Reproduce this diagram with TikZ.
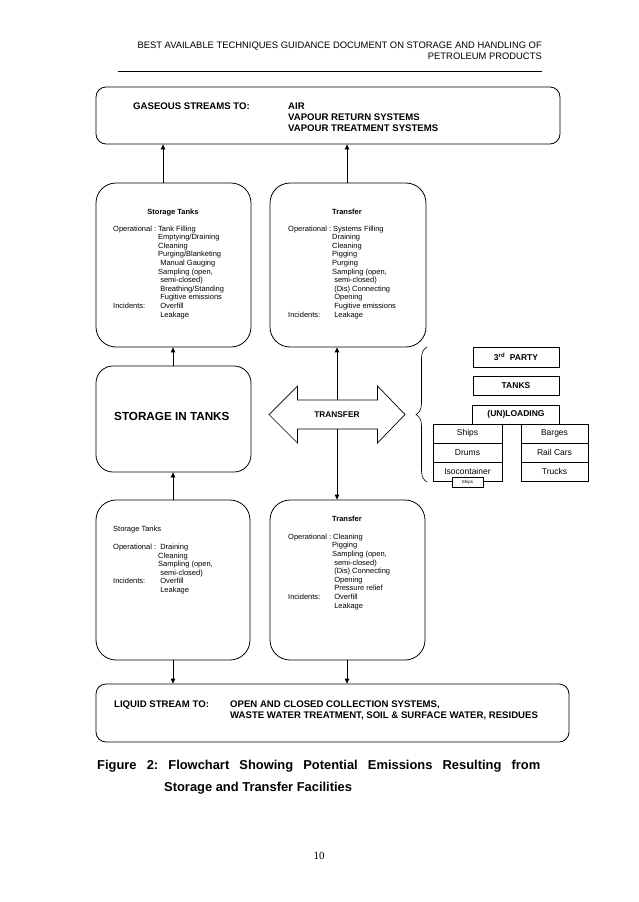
\documentclass[tikz,border=0pt]{standalone}
\usepackage{fontspec}
\setmainfont{Liberation Sans}
\newfontfamily\serifnum{Liberation Serif}
\usetikzlibrary{arrows.meta,decorations.pathreplacing}
\frenchspacing
\newcommand\firstrow[1]{\leavevmode\rlap{#1}}
\begin{document}
\begin{tikzpicture}[x=1pt,y=-1pt,
  rbox/.style={draw, line width=0.8pt, rounded corners=#1, inner sep=0pt},
  rbox/.default=20pt,
  sm/.style={font=\fontsize{7.5}{8.6}\selectfont, inner sep=0pt},
  smb/.style={font=\fontsize{7.5}{8.6}\selectfont\bfseries, inner sep=0pt},
  big/.style={font=\fontsize{9.6}{11}\selectfont\bfseries, inner sep=0pt},
  tb/.style={draw, line width=0.7pt, inner sep=0pt, font=\fontsize{8.5}{10}\selectfont},
  tbb/.style={tb, font=\fontsize{8.5}{10}\selectfont\bfseries},
  arr/.style={line width=0.8pt, -{Triangle[length=5pt,width=4.5pt]}},
  hdr/.style={font=\fontsize{9.4}{11}\selectfont, anchor=base east, inner sep=0pt},
  capt/.style={font=\fontsize{12.9}{15}\selectfont\bfseries\frenchspacing, anchor=base west, inner sep=0pt}]
\useasboundingbox (0,0) rectangle (638,902);

% header
\node[hdr] (h1) at (542,48) {BEST AVAILABLE TECHNIQUES GUIDANCE DOCUMENT ON STORAGE AND HANDLING OF};
\node[hdr] (h2) at (542,59) {PETROLEUM PRODUCTS};
\draw[line width=0.5pt] (118,71) -- (542,71);

% top box
\node[rbox=10pt, minimum width=464, minimum height=57] (gas) at (328,115.5) {};
\node[big, anchor=base west] (gasl) at (133,109.5) {GASEOUS STREAMS TO:};
\node[big, anchor=base west] (gasr) at (288,109.5) {\begin{tabular}[t]{@{}l@{}}AIR\\VAPOUR RETURN SYSTEMS\\VAPOUR TREATMENT SYSTEMS\end{tabular}};

% upper storage box
\node[rbox, minimum width=155, minimum height=164] (ust) at (173.5,265) {};
\node[smb, anchor=base] (ustt) at (173,214) {Storage Tanks};
\node[sm, anchor=base west] (ustx) at (113,231) {\begin{tabular}[t]{@{}p{45pt}@{}l@{}}
\firstrow{Operational : Tank Filling} & \\
 & Emptying/Draining\\
 & Cleaning\\
 & Purging/Blanketing\\
 & \ Manual Gauging\\
 & Sampling (open,\\
 & \ semi-closed)\\
 & \ Breathing/Standing\\
 & \ Fugitive emissions\\
Incidents: & \ Overfill\\
 & \ Leakage
\end{tabular}};

% upper transfer box
\node[rbox, minimum width=156, minimum height=164] (utr) at (348,265) {};
\node[smb, anchor=base] (utrt) at (347,214) {Transfer};
\node[sm, anchor=base west] (utrx) at (288,231) {\begin{tabular}[t]{@{}p{44pt}@{}l@{}}
\firstrow{Operational : Systems Filling} & \\
 & Draining\\
 & Cleaning\\
 & Pigging\\
 & Purging\\
 & Sampling (open,\\
 & \ semi-closed)\\
 & \ (Dis) Connecting\\
 & \ Opening\\
 & \ Fugitive emissions\\
Incidents: & \ Leakage
\end{tabular}};

% storage in tanks
\node[rbox=17pt, minimum width=155, minimum height=106] (sit) at (173.5,419) {};
\node[font=\fontsize{11.7}{14}\selectfont\bfseries, anchor=west, inner sep=0pt] (sitt) at (114,416) {STORAGE IN TANKS};

% transfer double arrow
\node[font=\fontsize{8.3}{10}\selectfont\bfseries, minimum width=80, minimum height=29, inner sep=0pt] (tr) at (337,414.5) {TRANSFER};
\draw[line width=0.7pt] (269,414.5) -- (297.5,386) -- (297.5,400) -- (377.5,400) -- (377.5,386) -- (405,414.5) -- (377.5,443) -- (377.5,429) -- (297.5,429) -- (297.5,443) -- cycle;

% lower storage box
\node[rbox, minimum width=154, minimum height=160] (lst) at (173,580) {};
\node[sm, anchor=base west] (lstt) at (113,531.8) {Storage Tanks};
\node[sm, anchor=base west] (lstx) at (113,549.5) {\begin{tabular}[t]{@{}p{45pt}@{}l@{}}
Operational : & \ Draining\\
 & Cleaning\\
 & Sampling (open,\\
 & \ semi-closed)\\
Incidents: & \ Overfill\\
 & \ Leakage
\end{tabular}};

% lower transfer box
\node[rbox, minimum width=155, minimum height=160] (ltr) at (347.5,580) {};
\node[smb, anchor=base] (ltrt) at (347,521.5) {Transfer};
\node[sm, anchor=base west] (ltrx) at (288,539.2) {\begin{tabular}[t]{@{}p{44pt}@{}l@{}}
\firstrow{Operational : Cleaning} & \\
 & Pigging\\
 & Sampling (open,\\
 & \ semi-closed)\\
 & \ (Dis) Connecting\\
 & \ Opening\\
 & \ Pressure relief\\
Incidents: & \ Overfill\\
 & \ Leakage
\end{tabular}};

% bottom box
\node[rbox=10pt, minimum width=473, minimum height=58] (bot) at (332.5,713) {};
\node[big, anchor=base west] (botl) at (114,707) {LIQUID STREAM TO:};
\node[big, anchor=base west] (botr) at (230,707) {\begin{tabular}[t]{@{}l@{}}OPEN AND CLOSED COLLECTION SYSTEMS,\\WASTE WATER TREATMENT, SOIL \& SURFACE WATER, RESIDUES\end{tabular}};

% connector x positions
\coordinate (c1) at (163,0);
\coordinate (c2) at (347,0);
\coordinate (c3) at (173,0);

\draw[arr] (ust.north -| c1) -- (gas.south -| c1);
\draw[arr] (utr.north -| c2) -- (gas.south -| c2);
\draw[arr] (sit.north -| c3) -- (ust.south -| c3);
\draw[arr] (tr.north) -- (utr.south -| tr.north);
\draw[arr] (tr.south) -- (ltr.north -| tr.south);
\draw[arr] (lst.north -| c3) -- (sit.south -| c3);
\draw[arr] (lst.south -| c3) -- (bot.north -| c3);
\draw[arr] (ltr.south -| c2) -- (bot.north -| c2);

% brace
\draw[line width=0.6pt, decorate, decoration={brace, amplitude=11pt}] (427,482) -- (427,347);

% third party boxes
\node[tbb, minimum width=86, minimum height=20] (party) at (516,357) {3\textsuperscript{rd}\ \ PARTY};
\node[tbb, minimum width=86, minimum height=19] (tanks) at (516,385.5) {TANKS};
\node[tbb, minimum width=87, minimum height=19] (unl) at (516,414.5) {(UN)LOADING};
\node[tb, minimum width=69, minimum height=19] (ships) at (467.5,433.5) {Ships};
\node[tb, minimum width=69, minimum height=19] (drums) at (467.5,452.5) {Drums};
\node[tb, minimum width=69, minimum height=19] (iso) at (467.5,471.5) {Isocontainer};
\node[tb, minimum width=67, minimum height=19] (barges) at (554.5,433.5) {Barges};
\node[tb, minimum width=67, minimum height=19] (rail) at (554.5,452.5) {Rail Cars};
\node[tb, minimum width=67, minimum height=19] (trucks) at (554.5,471.5) {Trucks};
\node[tb, line width=0.5pt, fill=white, minimum width=31, minimum height=10, font=\fontsize{4.5}{5}\selectfont] (ships2) at (467.5,482) {Ships};

% caption
\node[capt] (cap1) at (97,769) {\makebox[443pt][s]{Figure 2: Flowchart Showing Potential Emissions Resulting from}};
\node[capt] (cap2) at (164,791) {Storage and Transfer Facilities};

% page number
\node[font=\serifnum\fontsize{11}{13}\selectfont, inner sep=0pt] (pg) at (319,856) {10};
\end{tikzpicture}
\end{document}
